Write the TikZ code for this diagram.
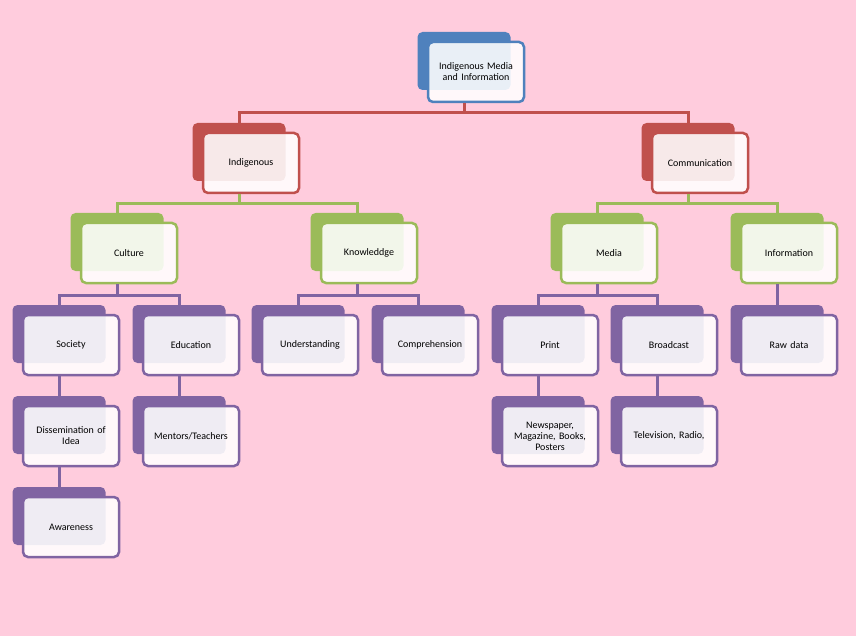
\documentclass[tikz,border=0pt]{standalone}
\usepackage{fontspec}
\setmainfont{Carlito}
\begin{document}
\begin{tikzpicture}[x=1pt,y=-1pt,
 back/.style={rounded corners=5pt,minimum width=93pt,minimum height=58pt,inner sep=0pt},
 front/.style={rounded corners=5pt,line width=2.5pt,minimum width=96pt,minimum height=60pt,inner sep=0pt,fill=white,fill opacity=0.88,text opacity=1,text width=88pt,align=center,font=\fontsize{10}{11}\selectfont},
 conn/.style={line width=3pt}]
\definecolor{bgp}{HTML}{FFCCDD}
\definecolor{cb}{HTML}{4F81BD}\definecolor{cr}{HTML}{C0504D}
\definecolor{cg}{HTML}{9BBB59}\definecolor{cp}{HTML}{8064A2}
\fill[bgp] (0,0) rectangle (856,636);
\useasboundingbox (0,0) rectangle (856,636);
\newcommand\bx[5]{%
 \node[back,fill=#4] (#1b) at ({#2+47},{#3+30}) {};
 \node[front,draw=#4] (#1) at ({#2+59},{#3+41}) {#5};}
\bx{root}{417}{31}{cb}{Indigenous Media\\and Information}
\bx{ind}{192}{122}{cr}{Indigenous}
\bx{com}{641}{122}{cr}{Communication}
\bx{cul}{70}{212}{cg}{Culture}
\bx{kno}{310}{212}{cg}{Knowleddge}
\bx{med}{550}{212}{cg}{Media}
\bx{inf}{730}{212}{cg}{Information}
\bx{soc}{12}{304}{cp}{Society}
\bx{edu}{132}{304}{cp}{Education}
\bx{und}{251}{304}{cp}{Understanding}
\bx{cmp}{371}{304}{cp}{Comprehension}
\bx{pri}{491}{304}{cp}{Print}
\bx{bro}{610}{304}{cp}{Broadcast}
\bx{raw}{730}{304}{cp}{Raw data}
\bx{dis}{12}{395}{cp}{Dissemination of\\Idea}
\bx{men}{132}{395}{cp}{Mentors/Teachers}
\bx{new}{491}{395}{cp}{Newspaper,\\Magazine, Books,\\Posters}
\bx{tel}{610}{395}{cp}{Television, Radio,}
\bx{awa}{12}{486}{cp}{Awareness}
% connectors
\draw[conn,cr] (rootb.south |- root.south) -- ++(0,9) coordinate (r1);
\draw[conn,cr] (indb.north) |- (r1) -| (comb.north);
\draw[conn,cg] (indb.south |- ind.south) -- ++(0,9) coordinate (r2);
\draw[conn,cg] (culb.north) |- (r2) -| (knob.north);
\draw[conn,cg] (comb.south |- com.south) -- ++(0,9) coordinate (r3);
\draw[conn,cg] (medb.north) |- (r3) -| (infb.north);
\draw[conn,cp] (culb.south |- cul.south) -- ++(0,11) coordinate (r4);
\draw[conn,cp] (socb.north) |- (r4) -| (edub.north);
\draw[conn,cp] (knob.south |- kno.south) -- ++(0,11) coordinate (r5);
\draw[conn,cp] (undb.north) |- (r5) -| (cmpb.north);
\draw[conn,cp] (medb.south |- med.south) -- ++(0,11) coordinate (r6);
\draw[conn,cp] (prib.north) |- (r6) -| (brob.north);
\draw[conn,cp] (infb.south |- inf.south) -- (rawb.north);
\draw[conn,cp] (socb.south |- soc.south) -- (disb.north);
\draw[conn,cp] (edub.south |- edu.south) -- (menb.north);
\draw[conn,cp] (prib.south |- pri.south) -- (newb.north);
\draw[conn,cp] (brob.south |- bro.south) -- (telb.north);
\draw[conn,cp] (disb.south |- dis.south) -- (awab.north);
\end{tikzpicture}
\end{document}
